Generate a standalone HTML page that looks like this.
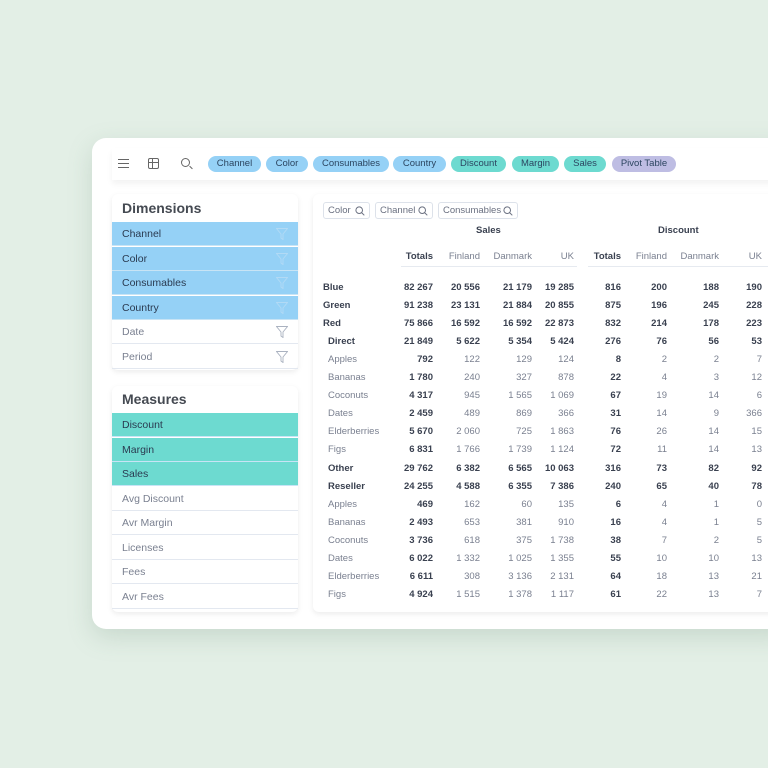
<!DOCTYPE html>
<html><head><style>
*{margin:0;padding:0;box-sizing:border-box}
body{width:768px;height:768px;background:#e3efe6;font-family:"Liberation Sans",sans-serif;position:relative;overflow:hidden;color:#3a4150}
.card{position:absolute;left:92px;top:138px;width:700px;height:491px;background:#fff;border-radius:14px;box-shadow:0 8px 24px rgba(120,150,130,.25)}
.bar{position:absolute;left:112px;top:148px;width:670px;height:32px;background:#fff;box-shadow:0 4px 6px rgba(0,0,0,.05)}
.pill{position:absolute;top:156px;height:16px;border-radius:8px;font-size:9.5px;line-height:16px;text-align:center;color:#2c4560}
.b{background:#95d1f6}.t{background:#6ddad0}.p{background:#bebde3}
.panel{position:absolute;background:#fff;border-radius:6px;box-shadow:0 2px 6px rgba(0,0,0,.08)}
.h{position:absolute;left:10px;font-size:14px;font-weight:bold;color:#454a52}
.row{position:absolute;left:0;width:186px;height:24px;font-size:10.5px;line-height:24px;padding-left:10px;color:#7a8090;border-bottom:1px solid #e3e8f0}
.row.b,.row.t{color:#2a3a50;border-bottom:1px solid #c8e4f5}
.fun{position:absolute;right:10px;top:6px;width:12px;height:12px}
.fb{position:absolute;top:202px;height:17px;border:1px solid #dde2ea;border-radius:3px;font-size:9.5px;line-height:15px;padding-left:4px;color:#6a7080}
.fb svg{position:absolute;right:4px;top:3px}
.c{position:absolute;font-size:9.5px;text-align:right;width:60px}
.l{position:absolute;font-size:9.5px}
</style></head><body>
<div class="card"></div>
<div class="bar"></div>
<div style="position:absolute;left:118px;top:159px;width:11px;height:9px;border-top:1.5px solid #666;border-bottom:1.5px solid #666"><div style="margin-top:2.5px;border-top:1.5px solid #666"></div></div>
<div style="position:absolute;left:148px;top:158px;width:11px;height:11px;border:1.3px solid #666;border-radius:2px"><div style="position:absolute;left:3px;top:0;bottom:0;border-left:1.2px solid #666"></div><div style="position:absolute;left:0;right:0;top:3px;border-top:1.2px solid #666"></div></div>
<div style="position:absolute;left:181px;top:158px;width:9px;height:9px;border:1.4px solid #666;border-radius:50%"></div>
<div style="position:absolute;left:189px;top:167px;width:4px;border-top:1.4px solid #666;transform:rotate(45deg)"></div>
<div class="pill b" style="left:208px;width:53px">Channel</div>
<div class="pill b" style="left:266px;width:42px">Color</div>
<div class="pill b" style="left:313px;width:76px">Consumables</div>
<div class="pill b" style="left:393px;width:53px">Country</div>
<div class="pill t" style="left:451px;width:55px">Discount</div>
<div class="pill t" style="left:512px;width:47px">Margin</div>
<div class="pill t" style="left:564px;width:42px">Sales</div>
<div class="pill p" style="left:612px;width:64px">Pivot Table</div>

<div class="panel" style="left:112px;top:194px;width:186px;height:176px">
<div class="h" style="top:6px">Dimensions</div>
<div class="row b" style="top:28px">Channel<svg class="fun" viewBox="0 0 12 12"><path d="M0.5 0.5H11.5L7 6V11.5L5 10V6Z" fill="none" stroke="#b2daf5" stroke-width="0.9"/></svg></div>
<div class="row b" style="top:53px">Color<svg class="fun" viewBox="0 0 12 12"><path d="M0.5 0.5H11.5L7 6V11.5L5 10V6Z" fill="none" stroke="#b2daf5" stroke-width="0.9"/></svg></div>
<div class="row b" style="top:77px">Consumables<svg class="fun" viewBox="0 0 12 12"><path d="M0.5 0.5H11.5L7 6V11.5L5 10V6Z" fill="none" stroke="#b2daf5" stroke-width="0.9"/></svg></div>
<div class="row b" style="top:102px">Country<svg class="fun" viewBox="0 0 12 12"><path d="M0.5 0.5H11.5L7 6V11.5L5 10V6Z" fill="none" stroke="#b2daf5" stroke-width="0.9"/></svg></div>
<div class="row" style="top:126px">Date<svg class="fun" viewBox="0 0 12 12"><path d="M0.5 0.5H11.5L7 6V11.5L5 10V6Z" fill="none" stroke="#aab2c0" stroke-width="0.9"/></svg></div>
<div class="row" style="top:151px">Period<svg class="fun" viewBox="0 0 12 12"><path d="M0.5 0.5H11.5L7 6V11.5L5 10V6Z" fill="none" stroke="#aab2c0" stroke-width="0.9"/></svg></div>
</div>
<div class="panel" style="left:112px;top:386px;width:186px;height:226px">
<div class="h" style="top:5px">Measures</div>
<div class="row t" style="top:27px">Discount</div>
<div class="row t" style="top:52px">Margin</div>
<div class="row t" style="top:76px">Sales</div>
<div class="row" style="top:101px">Avg Discount</div>
<div class="row" style="top:125px">Avr Margin</div>
<div class="row" style="top:150px">Licenses</div>
<div class="row" style="top:174px">Fees</div>
<div class="row" style="top:199px">Avr Fees</div>
</div>
<div class="panel" style="left:313px;top:194px;width:480px;height:418px"></div>
<div class="fb" style="left:323px;width:47px">Color<svg width="10" height="10" viewBox="0 0 10 10"><circle cx="4.2" cy="4.2" r="3.3" fill="none" stroke="#6a7080" stroke-width="1"/><path d="M6.6 6.6L9.3 9.3" stroke="#6a7080" stroke-width="1"/></svg></div>
<div class="fb" style="left:375px;width:58px">Channel<svg width="10" height="10" viewBox="0 0 10 10"><circle cx="4.2" cy="4.2" r="3.3" fill="none" stroke="#6a7080" stroke-width="1"/><path d="M6.6 6.6L9.3 9.3" stroke="#6a7080" stroke-width="1"/></svg></div>
<div class="fb" style="left:438px;width:80px">Consumables<svg width="10" height="10" viewBox="0 0 10 10"><circle cx="4.2" cy="4.2" r="3.3" fill="none" stroke="#6a7080" stroke-width="1"/><path d="M6.6 6.6L9.3 9.3" stroke="#6a7080" stroke-width="1"/></svg></div>
<div class="l" style="left:476px;top:225px;font-weight:bold">Sales</div>
<div class="l" style="left:658px;top:225px;font-weight:bold">Discount</div>
<div style="position:absolute;left:401px;top:266px;width:176px;border-top:1.5px solid #e6eaf0"></div>
<div style="position:absolute;left:588px;top:266px;width:180px;border-top:1.5px solid #e6eaf0"></div>
<div id="t"></div>
<script>
var cols=[433,480,532,574,621,667,719,762];
var hd=["Totals","Finland","Danmark","UK","Totals","Finland","Danmark","UK"];
var h='';
hd.forEach(function(s,i){h+='<div class="c" style="left:'+(cols[i]-60)+'px;top:251px;color:'+(i%4==0?'#3a4150;font-weight:bold':'#7a8090')+'">'+s+'</div>';});
var rows=[["Blue",0,"82 267","20 556","21 179","19 285","816","200","188","190"],
["Green",0,"91 238","23 131","21 884","20 855","875","196","245","228"],
["Red",0,"75 866","16 592","16 592","22 873","832","214","178","223"],
["Direct",1,"21 849","5 622","5 354","5 424","276","76","56","53"],
["Apples",2,"792","122","129","124","8","2","2","7"],
["Bananas",2,"1 780","240","327","878","22","4","3","12"],
["Coconuts",2,"4 317","945","1 565","1 069","67","19","14","6"],
["Dates",2,"2 459","489","869","366","31","14","9","366"],
["Elderberries",2,"5 670","2 060","725","1 863","76","26","14","15"],
["Figs",2,"6 831","1 766","1 739","1 124","72","11","14","13"],
["Other",1,"29 762","6 382","6 565","10 063","316","73","82","92"],
["Reseller",1,"24 255","4 588","6 355","7 386","240","65","40","78"],
["Apples",2,"469","162","60","135","6","4","1","0"],
["Bananas",2,"2 493","653","381","910","16","4","1","5"],
["Coconuts",2,"3 736","618","375","1 738","38","7","2","5"],
["Dates",2,"6 022","1 332","1 025","1 355","55","10","10","13"],
["Elderberries",2,"6 611","308","3 136","2 131","64","18","13","21"],
["Figs",2,"4 924","1 515","1 378","1 117","61","22","13","7"]];
rows.forEach(function(r,j){var y=281.5+j*18.1;var bold=r[1]<2;
h+='<div class="l" style="left:'+(r[1]?328:323)+'px;top:'+y+'px;'+(bold?'font-weight:bold;color:#3a4150':'color:#7a8090')+'">'+r[0]+'</div>';
for(var i=0;i<8;i++){var b=bold||i%4==0;h+='<div class="c" style="left:'+(cols[i]-60)+'px;top:'+y+'px;'+(b?'font-weight:bold;color:#3a4150':'color:#7a8090')+'">'+r[i+2]+'</div>';}});
document.getElementById('t').innerHTML=h;
</script>
</body></html>
